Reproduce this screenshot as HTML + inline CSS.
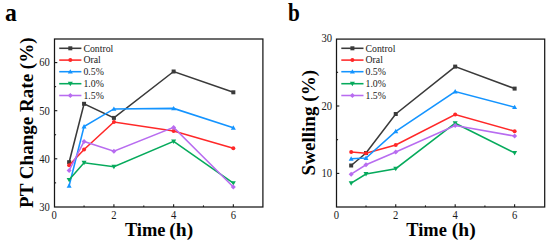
<!DOCTYPE html>
<html><head><meta charset="utf-8"><style>
html,body{margin:0;padding:0;background:#fff;}
body{width:550px;height:243px;overflow:hidden;}
svg{display:block;font-family:"Liberation Serif",serif;}
</style></head><body>
<svg width="550" height="243" viewBox="0 0 550 243">
<rect width="550" height="243" fill="#fff"/>
<rect x="54.5" y="39.0" width="208.40" height="168.00" fill="none" stroke="#161616" stroke-width="1.25"/>
<text transform="translate(54.20,218.6) scale(0.85,1)" font-size="12.5" text-anchor="middle" fill="#1a1a1a">0</text>
<line x1="84.06" y1="207.0" x2="84.06" y2="205.4" stroke="#161616" stroke-width="1.1"/>
<line x1="113.91" y1="207.0" x2="113.91" y2="204.2" stroke="#161616" stroke-width="1.1"/>
<text transform="translate(113.91,218.6) scale(0.85,1)" font-size="12.5" text-anchor="middle" fill="#1a1a1a">2</text>
<line x1="143.77" y1="207.0" x2="143.77" y2="205.4" stroke="#161616" stroke-width="1.1"/>
<line x1="173.63" y1="207.0" x2="173.63" y2="204.2" stroke="#161616" stroke-width="1.1"/>
<text transform="translate(173.63,218.6) scale(0.85,1)" font-size="12.5" text-anchor="middle" fill="#1a1a1a">4</text>
<line x1="203.49" y1="207.0" x2="203.49" y2="205.4" stroke="#161616" stroke-width="1.1"/>
<line x1="233.34" y1="207.0" x2="233.34" y2="204.2" stroke="#161616" stroke-width="1.1"/>
<text transform="translate(233.34,218.6) scale(0.85,1)" font-size="12.5" text-anchor="middle" fill="#1a1a1a">6</text>
<text transform="translate(49.90,210.70) scale(0.85,1)" font-size="12.5" text-anchor="end" fill="#1a1a1a">30</text>
<line x1="54.5" y1="182.85" x2="56.1" y2="182.85" stroke="#161616" stroke-width="1.1"/>
<line x1="54.5" y1="158.80" x2="57.3" y2="158.80" stroke="#161616" stroke-width="1.1"/>
<text transform="translate(49.90,162.60) scale(0.85,1)" font-size="12.5" text-anchor="end" fill="#1a1a1a">40</text>
<line x1="54.5" y1="134.75" x2="56.1" y2="134.75" stroke="#161616" stroke-width="1.1"/>
<line x1="54.5" y1="110.70" x2="57.3" y2="110.70" stroke="#161616" stroke-width="1.1"/>
<text transform="translate(49.90,114.50) scale(0.85,1)" font-size="12.5" text-anchor="end" fill="#1a1a1a">50</text>
<line x1="54.5" y1="86.65" x2="56.1" y2="86.65" stroke="#161616" stroke-width="1.1"/>
<line x1="54.5" y1="62.60" x2="57.3" y2="62.60" stroke="#161616" stroke-width="1.1"/>
<text transform="translate(49.90,66.40) scale(0.85,1)" font-size="12.5" text-anchor="end" fill="#1a1a1a">60</text>
<polyline points="69.13,162.20 84.06,103.80 113.91,117.90 173.63,71.50 233.34,92.30" fill="none" stroke="#3a3a3a" stroke-width="1.55" stroke-linejoin="miter"/>
<rect x="67.13" y="160.20" width="4.00" height="4.00" fill="#3a3a3a"/>
<rect x="82.06" y="101.80" width="4.00" height="4.00" fill="#3a3a3a"/>
<rect x="111.91" y="115.90" width="4.00" height="4.00" fill="#3a3a3a"/>
<rect x="171.63" y="69.50" width="4.00" height="4.00" fill="#3a3a3a"/>
<rect x="231.34" y="90.30" width="4.00" height="4.00" fill="#3a3a3a"/>
<polyline points="69.13,165.20 84.06,149.50 113.91,122.00 173.63,131.00 233.34,148.20" fill="none" stroke="#ff2828" stroke-width="1.55" stroke-linejoin="miter"/>
<circle cx="69.13" cy="165.20" r="2.00" fill="#ff2828"/>
<circle cx="84.06" cy="149.50" r="2.00" fill="#ff2828"/>
<circle cx="113.91" cy="122.00" r="2.00" fill="#ff2828"/>
<circle cx="173.63" cy="131.00" r="2.00" fill="#ff2828"/>
<circle cx="233.34" cy="148.20" r="2.00" fill="#ff2828"/>
<polyline points="69.13,185.80 84.06,126.50 113.91,108.90 173.63,108.40 233.34,127.80" fill="none" stroke="#1494ff" stroke-width="1.55" stroke-linejoin="miter"/>
<path d="M69.13,183.30 L71.63,187.68 L66.63,187.68 Z" fill="#1494ff"/>
<path d="M84.06,124.00 L86.56,128.38 L81.56,128.38 Z" fill="#1494ff"/>
<path d="M113.91,106.40 L116.41,110.78 L111.41,110.78 Z" fill="#1494ff"/>
<path d="M173.63,105.90 L176.13,110.28 L171.13,110.28 Z" fill="#1494ff"/>
<path d="M233.34,125.30 L235.84,129.68 L230.84,129.68 Z" fill="#1494ff"/>
<polyline points="69.13,179.80 84.06,162.70 113.91,166.70 173.63,141.40 233.34,183.10" fill="none" stroke="#06aa5c" stroke-width="1.55" stroke-linejoin="miter"/>
<path d="M69.13,182.30 L71.63,177.93 L66.63,177.93 Z" fill="#06aa5c"/>
<path d="M84.06,165.20 L86.56,160.82 L81.56,160.82 Z" fill="#06aa5c"/>
<path d="M113.91,169.20 L116.41,164.82 L111.41,164.82 Z" fill="#06aa5c"/>
<path d="M173.63,143.90 L176.13,139.53 L171.13,139.53 Z" fill="#06aa5c"/>
<path d="M233.34,185.60 L235.84,181.22 L230.84,181.22 Z" fill="#06aa5c"/>
<polyline points="69.13,170.40 84.06,141.50 113.91,151.30 173.63,127.40 233.34,187.00" fill="none" stroke="#b86cf0" stroke-width="1.55" stroke-linejoin="miter"/>
<path d="M69.13,167.90 L71.63,170.40 L69.13,172.90 L66.63,170.40 Z" fill="#b86cf0"/>
<path d="M84.06,139.00 L86.56,141.50 L84.06,144.00 L81.56,141.50 Z" fill="#b86cf0"/>
<path d="M113.91,148.80 L116.41,151.30 L113.91,153.80 L111.41,151.30 Z" fill="#b86cf0"/>
<path d="M173.63,124.90 L176.13,127.40 L173.63,129.90 L171.13,127.40 Z" fill="#b86cf0"/>
<path d="M233.34,184.50 L235.84,187.00 L233.34,189.50 L230.84,187.00 Z" fill="#b86cf0"/>
<line x1="59.20" y1="48.30" x2="81.40" y2="48.30" stroke="#3a3a3a" stroke-width="1.55"/>
<rect x="68.30" y="46.30" width="4.00" height="4.00" fill="#3a3a3a"/>
<text x="83.40" y="51.50" font-size="9.8" fill="#1a1a1a">Control</text>
<line x1="59.20" y1="60.10" x2="81.40" y2="60.10" stroke="#ff2828" stroke-width="1.55"/>
<circle cx="70.30" cy="60.10" r="2.00" fill="#ff2828"/>
<text x="83.40" y="63.30" font-size="9.8" fill="#1a1a1a">Oral</text>
<line x1="59.20" y1="71.70" x2="81.40" y2="71.70" stroke="#1494ff" stroke-width="1.55"/>
<path d="M70.30,69.20 L72.80,73.58 L67.80,73.58 Z" fill="#1494ff"/>
<text x="83.40" y="74.90" font-size="9.8" fill="#1a1a1a">0.5%</text>
<line x1="59.20" y1="83.70" x2="81.40" y2="83.70" stroke="#06aa5c" stroke-width="1.55"/>
<path d="M70.30,86.20 L72.80,81.83 L67.80,81.83 Z" fill="#06aa5c"/>
<text x="83.40" y="86.90" font-size="9.8" fill="#1a1a1a">1.0%</text>
<line x1="59.20" y1="95.50" x2="81.40" y2="95.50" stroke="#b86cf0" stroke-width="1.55"/>
<path d="M70.30,93.00 L72.80,95.50 L70.30,98.00 L67.80,95.50 Z" fill="#b86cf0"/>
<text x="83.40" y="98.70" font-size="9.8" fill="#1a1a1a">1.5%</text>
<text transform="translate(33.4,122.65) rotate(-90)" x="0" y="0" font-size="19.5" font-weight="bold" text-anchor="middle" textLength="170.5" lengthAdjust="spacingAndGlyphs" fill="#000">PT Change Rate (%)</text>
<text x="124.90" y="236.0" font-size="19.5" font-weight="bold" textLength="40.6" lengthAdjust="spacingAndGlyphs" fill="#000">Time</text>
<text x="169.30" y="236.0" font-size="19.5" font-weight="bold" fill="#000">(h)</text>
<text transform="translate(5.0,20.5) scale(0.91,1)" font-size="26" font-weight="bold" fill="#000">a</text>
<rect x="336.5" y="39.1" width="208.20" height="167.90" fill="none" stroke="#161616" stroke-width="1.25"/>
<text transform="translate(336.30,218.6) scale(0.85,1)" font-size="12.5" text-anchor="middle" fill="#1a1a1a">0</text>
<line x1="366.02" y1="207.0" x2="366.02" y2="205.4" stroke="#161616" stroke-width="1.1"/>
<line x1="395.74" y1="207.0" x2="395.74" y2="204.2" stroke="#161616" stroke-width="1.1"/>
<text transform="translate(395.74,218.6) scale(0.85,1)" font-size="12.5" text-anchor="middle" fill="#1a1a1a">2</text>
<line x1="425.46" y1="207.0" x2="425.46" y2="205.4" stroke="#161616" stroke-width="1.1"/>
<line x1="455.18" y1="207.0" x2="455.18" y2="204.2" stroke="#161616" stroke-width="1.1"/>
<text transform="translate(455.18,218.6) scale(0.85,1)" font-size="12.5" text-anchor="middle" fill="#1a1a1a">4</text>
<line x1="484.90" y1="207.0" x2="484.90" y2="205.4" stroke="#161616" stroke-width="1.1"/>
<line x1="514.62" y1="207.0" x2="514.62" y2="204.2" stroke="#161616" stroke-width="1.1"/>
<text transform="translate(514.62,218.6) scale(0.85,1)" font-size="12.5" text-anchor="middle" fill="#1a1a1a">6</text>
<line x1="336.5" y1="173.40" x2="339.3" y2="173.40" stroke="#161616" stroke-width="1.1"/>
<text transform="translate(332.00,177.20) scale(0.85,1)" font-size="12.5" text-anchor="end" fill="#1a1a1a">10</text>
<line x1="336.5" y1="139.70" x2="338.1" y2="139.70" stroke="#161616" stroke-width="1.1"/>
<line x1="336.5" y1="106.00" x2="339.3" y2="106.00" stroke="#161616" stroke-width="1.1"/>
<text transform="translate(332.00,109.80) scale(0.85,1)" font-size="12.5" text-anchor="end" fill="#1a1a1a">20</text>
<line x1="336.5" y1="72.30" x2="338.1" y2="72.30" stroke="#161616" stroke-width="1.1"/>
<text transform="translate(332.00,42.40) scale(0.85,1)" font-size="12.5" text-anchor="end" fill="#1a1a1a">30</text>
<polyline points="351.16,165.50 366.02,153.00 395.74,114.00 455.18,66.60 514.62,88.60" fill="none" stroke="#3a3a3a" stroke-width="1.55" stroke-linejoin="miter"/>
<rect x="349.16" y="163.50" width="4.00" height="4.00" fill="#3a3a3a"/>
<rect x="364.02" y="151.00" width="4.00" height="4.00" fill="#3a3a3a"/>
<rect x="393.74" y="112.00" width="4.00" height="4.00" fill="#3a3a3a"/>
<rect x="453.18" y="64.60" width="4.00" height="4.00" fill="#3a3a3a"/>
<rect x="512.62" y="86.60" width="4.00" height="4.00" fill="#3a3a3a"/>
<polyline points="351.16,152.00 366.02,153.20 395.74,144.90 455.18,114.60 514.62,131.20" fill="none" stroke="#ff2828" stroke-width="1.55" stroke-linejoin="miter"/>
<circle cx="351.16" cy="152.00" r="2.00" fill="#ff2828"/>
<circle cx="366.02" cy="153.20" r="2.00" fill="#ff2828"/>
<circle cx="395.74" cy="144.90" r="2.00" fill="#ff2828"/>
<circle cx="455.18" cy="114.60" r="2.00" fill="#ff2828"/>
<circle cx="514.62" cy="131.20" r="2.00" fill="#ff2828"/>
<polyline points="351.16,158.80 366.02,158.00 395.74,131.30 455.18,91.60 514.62,107.20" fill="none" stroke="#1494ff" stroke-width="1.55" stroke-linejoin="miter"/>
<path d="M351.16,156.30 L353.66,160.68 L348.66,160.68 Z" fill="#1494ff"/>
<path d="M366.02,155.50 L368.52,159.88 L363.52,159.88 Z" fill="#1494ff"/>
<path d="M395.74,128.80 L398.24,133.18 L393.24,133.18 Z" fill="#1494ff"/>
<path d="M455.18,89.10 L457.68,93.47 L452.68,93.47 Z" fill="#1494ff"/>
<path d="M514.62,104.70 L517.12,109.08 L512.12,109.08 Z" fill="#1494ff"/>
<polyline points="351.16,183.20 366.02,174.00 395.74,168.70 455.18,123.20 514.62,152.90" fill="none" stroke="#06aa5c" stroke-width="1.55" stroke-linejoin="miter"/>
<path d="M351.16,185.70 L353.66,181.32 L348.66,181.32 Z" fill="#06aa5c"/>
<path d="M366.02,176.50 L368.52,172.12 L363.52,172.12 Z" fill="#06aa5c"/>
<path d="M395.74,171.20 L398.24,166.82 L393.24,166.82 Z" fill="#06aa5c"/>
<path d="M455.18,125.70 L457.68,121.33 L452.68,121.33 Z" fill="#06aa5c"/>
<path d="M514.62,155.40 L517.12,151.03 L512.12,151.03 Z" fill="#06aa5c"/>
<polyline points="351.16,174.20 366.02,164.80 395.74,152.00 455.18,125.60 514.62,136.10" fill="none" stroke="#b86cf0" stroke-width="1.55" stroke-linejoin="miter"/>
<path d="M351.16,171.70 L353.66,174.20 L351.16,176.70 L348.66,174.20 Z" fill="#b86cf0"/>
<path d="M366.02,162.30 L368.52,164.80 L366.02,167.30 L363.52,164.80 Z" fill="#b86cf0"/>
<path d="M395.74,149.50 L398.24,152.00 L395.74,154.50 L393.24,152.00 Z" fill="#b86cf0"/>
<path d="M455.18,123.10 L457.68,125.60 L455.18,128.10 L452.68,125.60 Z" fill="#b86cf0"/>
<path d="M514.62,133.60 L517.12,136.10 L514.62,138.60 L512.12,136.10 Z" fill="#b86cf0"/>
<line x1="341.30" y1="48.30" x2="363.50" y2="48.30" stroke="#3a3a3a" stroke-width="1.55"/>
<rect x="350.40" y="46.30" width="4.00" height="4.00" fill="#3a3a3a"/>
<text x="365.50" y="51.50" font-size="9.8" fill="#1a1a1a">Control</text>
<line x1="341.30" y1="60.10" x2="363.50" y2="60.10" stroke="#ff2828" stroke-width="1.55"/>
<circle cx="352.40" cy="60.10" r="2.00" fill="#ff2828"/>
<text x="365.50" y="63.30" font-size="9.8" fill="#1a1a1a">Oral</text>
<line x1="341.30" y1="71.70" x2="363.50" y2="71.70" stroke="#1494ff" stroke-width="1.55"/>
<path d="M352.40,69.20 L354.90,73.58 L349.90,73.58 Z" fill="#1494ff"/>
<text x="365.50" y="74.90" font-size="9.8" fill="#1a1a1a">0.5%</text>
<line x1="341.30" y1="83.70" x2="363.50" y2="83.70" stroke="#06aa5c" stroke-width="1.55"/>
<path d="M352.40,86.20 L354.90,81.83 L349.90,81.83 Z" fill="#06aa5c"/>
<text x="365.50" y="86.90" font-size="9.8" fill="#1a1a1a">1.0%</text>
<line x1="341.30" y1="95.50" x2="363.50" y2="95.50" stroke="#b86cf0" stroke-width="1.55"/>
<path d="M352.40,93.00 L354.90,95.50 L352.40,98.00 L349.90,95.50 Z" fill="#b86cf0"/>
<text x="365.50" y="98.70" font-size="9.8" fill="#1a1a1a">1.5%</text>
<text transform="translate(314.8,122.65) rotate(-90)" x="0" y="0" font-size="19.5" font-weight="bold" text-anchor="middle" textLength="105.5" lengthAdjust="spacingAndGlyphs" fill="#000">Swelling (%)</text>
<text x="406.30" y="236.0" font-size="19.5" font-weight="bold" textLength="40.6" lengthAdjust="spacingAndGlyphs" fill="#000">Time</text>
<text x="451.80" y="236.0" font-size="19.5" font-weight="bold" fill="#000">(h)</text>
<text transform="translate(288.0,20.9) scale(0.87,1)" font-size="24.4" font-weight="bold" fill="#000">b</text>
</svg>
</body></html>
